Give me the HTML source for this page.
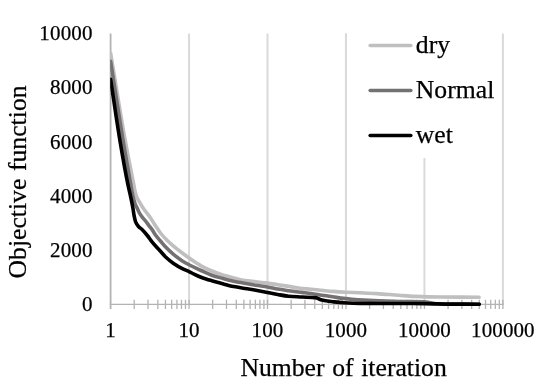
<!DOCTYPE html>
<html><head><meta charset="utf-8"><title>chart</title>
<style>
html,body{margin:0;padding:0;background:#fff;}
body{width:550px;height:388px;overflow:hidden;}
svg{display:block;}
text{font-family:"Liberation Serif",serif;fill:#000;stroke:#000;stroke-width:0.25px;}
</style></head><body>
<svg width="550" height="388" viewBox="0 0 550 388">
<rect width="550" height="388" fill="#fff"/>

<line x1="189.06" y1="33.5" x2="189.06" y2="304.3" stroke="#dadada" stroke-width="2"/>
<line x1="267.52" y1="33.5" x2="267.52" y2="304.3" stroke="#dadada" stroke-width="2"/>
<line x1="345.98" y1="33.5" x2="345.98" y2="304.3" stroke="#dadada" stroke-width="2"/>
<line x1="424.44" y1="33.5" x2="424.44" y2="304.3" stroke="#dadada" stroke-width="2"/>
<line x1="502.90" y1="33.5" x2="502.90" y2="304.3" stroke="#dadada" stroke-width="2"/>
<line x1="110.60" y1="33.5" x2="110.60" y2="308.9" stroke="#b3b3b3" stroke-width="1.8"/>
<line x1="109.85" y1="304.4" x2="503.65" y2="304.4" stroke="#b3b3b3" stroke-width="1.3"/>
<path d="M134.22 299.7V308.9M148.03 299.7V308.9M157.84 299.7V308.9M165.44 299.7V308.9M171.65 299.7V308.9M176.91 299.7V308.9M181.46 299.7V308.9M185.47 299.7V308.9M189.06 299.7V308.9M212.68 299.7V308.9M226.49 299.7V308.9M236.30 299.7V308.9M243.90 299.7V308.9M250.11 299.7V308.9M255.37 299.7V308.9M259.92 299.7V308.9M263.93 299.7V308.9M267.52 299.7V308.9M291.14 299.7V308.9M304.95 299.7V308.9M314.76 299.7V308.9M322.36 299.7V308.9M328.57 299.7V308.9M333.83 299.7V308.9M338.38 299.7V308.9M342.39 299.7V308.9M345.98 299.7V308.9M369.60 299.7V308.9M383.41 299.7V308.9M393.22 299.7V308.9M400.82 299.7V308.9M407.03 299.7V308.9M412.29 299.7V308.9M416.84 299.7V308.9M420.85 299.7V308.9M424.44 299.7V308.9M448.06 299.7V308.9M461.87 299.7V308.9M471.68 299.7V308.9M479.28 299.7V308.9M485.49 299.7V308.9M490.75 299.7V308.9M495.30 299.7V308.9M499.31 299.7V308.9M502.90 299.7V308.9" stroke="#b3b3b3" stroke-width="1.3" fill="none"/>
<rect x="360" y="30" width="135" height="128" fill="#fff"/>
<line x1="345.98" y1="33.5" x2="345.98" y2="304.3" stroke="#dadada" stroke-width="2"/>
<clipPath id="cp"><rect x="110.2" y="0" width="440" height="388"/></clipPath>
<path d="M110.60 53.00 C115.47 82.13 120.33 113.56 125.20 140.40 C128.10 156.40 131.00 170.57 133.90 185.40 C134.33 187.62 134.77 190.27 135.20 192.00 C135.77 194.26 136.33 196.18 136.90 197.50 C137.93 199.91 138.97 201.17 140.00 202.90 C141.13 204.80 142.27 206.76 143.40 208.40 C144.57 210.09 145.73 211.44 146.90 213.00 C148.00 214.47 149.10 215.90 150.20 217.50 C151.80 219.82 153.40 222.59 155.00 225.00 C156.83 227.76 158.67 230.67 160.50 233.00 C162.67 235.76 164.83 238.15 167.00 240.30 C169.07 242.35 171.13 244.07 173.20 245.80 C176.23 248.35 179.27 250.69 182.30 253.00 C184.70 254.83 187.10 256.61 189.50 258.30 C191.67 259.83 193.83 261.30 196.00 262.70 C197.67 263.78 199.33 264.88 201.00 265.80 C204.60 267.78 208.20 269.50 211.80 271.00 C215.43 272.51 219.07 273.88 222.70 275.00 C226.33 276.12 229.97 276.99 233.60 277.90 C237.40 278.85 241.20 280.03 245.00 280.60 C248.63 281.14 252.27 281.39 255.90 281.80 C259.73 282.23 263.57 282.60 267.40 283.10 C270.83 283.55 274.27 284.17 277.70 284.70 C281.33 285.27 284.97 285.81 288.60 286.40 C292.40 287.01 296.20 287.88 300.00 288.30 C303.63 288.70 307.27 288.87 310.90 289.20 C314.53 289.53 318.17 289.93 321.80 290.30 C325.43 290.67 329.07 291.12 332.70 291.40 C337.13 291.74 341.57 291.98 346.00 292.20 C350.67 292.43 355.33 292.59 360.00 292.80 C365.60 293.05 371.20 293.27 376.80 293.60 C384.07 294.03 391.33 294.78 398.60 295.30 C404.07 295.69 409.53 296.20 415.00 296.40 C423.33 296.70 431.67 296.93 440.00 297.00 C453.03 297.12 466.07 297.13 479.10 297.20" stroke="#bfbfbf" stroke-width="3.6" fill="none" stroke-linecap="round" stroke-linejoin="round" clip-path="url(#cp)"/>
<path d="M110.60 61.20 C114.73 87.60 118.87 115.61 123.00 140.40 C125.63 156.19 128.27 170.73 130.90 185.40 C131.30 187.63 131.70 190.11 132.10 192.00 C133.07 196.56 134.03 200.82 135.00 203.50 C135.77 205.63 136.53 206.87 137.30 208.50 C138.07 210.13 138.83 211.99 139.60 213.30 C140.53 214.89 141.47 216.09 142.40 217.30 C143.67 218.95 144.93 220.19 146.20 221.80 C147.30 223.20 148.40 224.84 149.50 226.30 C150.40 227.50 151.30 228.52 152.20 229.80 C153.30 231.36 154.40 233.49 155.50 235.00 C157.17 237.29 158.83 239.03 160.50 241.00 C162.30 243.13 164.10 245.42 165.90 247.30 C168.33 249.83 170.77 252.07 173.20 254.10 C176.23 256.63 179.27 258.95 182.30 260.90 C184.70 262.44 187.10 263.72 189.50 265.00 C191.63 266.13 193.77 267.19 195.90 268.20 C197.60 269.00 199.30 269.75 201.00 270.50 C204.60 272.10 208.20 273.94 211.80 275.20 C215.43 276.47 219.07 277.40 222.70 278.40 C226.33 279.40 229.97 280.41 233.60 281.20 C237.73 282.09 241.87 282.74 246.00 283.50 C249.30 284.11 252.60 284.78 255.90 285.30 C259.73 285.91 263.57 286.25 267.40 286.90 C270.83 287.48 274.27 288.50 277.70 289.10 C281.33 289.73 284.97 290.20 288.60 290.70 C293.07 291.31 297.53 291.84 302.00 292.40 C304.97 292.77 307.93 293.09 310.90 293.50 C314.53 294.00 318.17 294.65 321.80 295.20 C325.43 295.75 329.07 296.27 332.70 296.80 C336.33 297.33 339.97 297.97 343.60 298.40 C348.40 298.97 353.20 299.51 358.00 299.80 C372.00 300.66 386.00 301.24 400.00 301.50 C408.00 301.65 416.00 301.60 424.00 301.80 C428.33 301.91 432.67 303.71 437.00 303.80 C451.10 304.10 465.20 304.07 479.30 304.20" stroke="#767171" stroke-width="3.6" fill="none" stroke-linecap="round" stroke-linejoin="round" clip-path="url(#cp)"/>
<path d="M110.60 79.30 C113.70 99.67 116.80 121.90 119.90 140.40 C122.63 156.72 125.37 172.40 128.10 185.40 C128.83 188.89 129.57 191.59 130.30 195.00 C131.17 199.03 132.03 203.10 132.90 208.00 C133.33 210.45 133.77 214.03 134.20 216.20 C134.63 218.37 135.07 220.52 135.50 221.60 C136.50 224.09 137.50 225.38 138.50 226.50 C139.60 227.73 140.70 228.25 141.80 229.30 C143.63 231.05 145.47 233.25 147.30 235.50 C148.87 237.42 150.43 239.86 152.00 241.80 C153.50 243.66 155.00 245.33 156.50 247.00 C157.83 248.48 159.17 249.84 160.50 251.30 C162.30 253.27 164.10 255.60 165.90 257.30 C168.33 259.60 170.77 261.53 173.20 263.20 C176.23 265.29 179.27 267.07 182.30 268.60 C184.70 269.81 187.10 270.67 189.50 271.80 C191.03 272.52 192.57 273.37 194.10 274.10 C196.40 275.19 198.70 276.32 201.00 277.20 C204.60 278.57 208.20 279.63 211.80 280.70 C215.43 281.78 219.07 282.72 222.70 283.70 C226.33 284.68 229.97 285.88 233.60 286.60 C238.07 287.49 242.53 287.97 247.00 288.70 C249.97 289.18 252.93 289.67 255.90 290.20 C259.73 290.89 263.57 291.64 267.40 292.40 C270.83 293.08 274.27 293.89 277.70 294.50 C281.33 295.14 284.97 295.88 288.60 296.20 C293.07 296.59 297.53 296.73 302.00 297.00 C306.80 297.29 311.60 297.31 316.40 297.90 C318.20 298.12 320.00 299.69 321.80 300.10 C325.43 300.93 329.07 301.27 332.70 301.70 C336.33 302.13 339.97 302.60 343.60 302.80 C349.07 303.10 354.53 303.37 360.00 303.40 C373.33 303.47 386.67 303.46 400.00 303.50 C408.33 303.53 416.67 303.54 425.00 303.60 C433.33 303.66 441.67 304.05 450.00 304.10 C459.77 304.16 469.53 304.17 479.30 304.20" stroke="#000" stroke-width="3.6" fill="none" stroke-linecap="round" stroke-linejoin="round" clip-path="url(#cp)"/>
<line x1="370.2" y1="45.5" x2="410.8" y2="45.5" stroke="#bfbfbf" stroke-width="3.6" stroke-linecap="round"/>
<text x="415.8" y="52.7" font-size="25.7">dry</text>
<line x1="370.2" y1="90.5" x2="410.8" y2="90.5" stroke="#767171" stroke-width="3.6" stroke-linecap="round"/>
<text x="415.8" y="97.7" font-size="25.7">Normal</text>
<line x1="370.2" y1="135.5" x2="410.8" y2="135.5" stroke="#000" stroke-width="3.6" stroke-linecap="round"/>
<text x="415.8" y="142.7" font-size="25.7">wet</text>
<text x="92.6" y="311.0" font-size="21" letter-spacing="0.15" text-anchor="end">0</text>
<text x="92.6" y="256.8" font-size="21" letter-spacing="0.15" text-anchor="end">2000</text>
<text x="92.6" y="202.7" font-size="21" letter-spacing="0.15" text-anchor="end">4000</text>
<text x="92.6" y="148.5" font-size="21" letter-spacing="0.15" text-anchor="end">6000</text>
<text x="92.6" y="94.4" font-size="21" letter-spacing="0.15" text-anchor="end">8000</text>
<text x="92.6" y="40.2" font-size="21" letter-spacing="0.15" text-anchor="end">10000</text>
<text x="110.60" y="336.6" font-size="21" letter-spacing="0.1" text-anchor="middle">1</text>
<text x="189.06" y="336.6" font-size="21" letter-spacing="0.1" text-anchor="middle">10</text>
<text x="267.52" y="336.6" font-size="21" letter-spacing="0.1" text-anchor="middle">100</text>
<text x="345.98" y="336.6" font-size="21" letter-spacing="0.1" text-anchor="middle">1000</text>
<text x="424.44" y="336.6" font-size="21" letter-spacing="0.1" text-anchor="middle">10000</text>
<text x="502.90" y="336.6" font-size="21" letter-spacing="0.1" text-anchor="middle">100000</text>
<text x="240.4" y="375.8" font-size="25.7" word-spacing="1.2">Number of iteration</text>
<text transform="translate(26.1 278.5) rotate(-90)" font-size="25.7" word-spacing="1.2">Objective function</text>
</svg></body></html>
